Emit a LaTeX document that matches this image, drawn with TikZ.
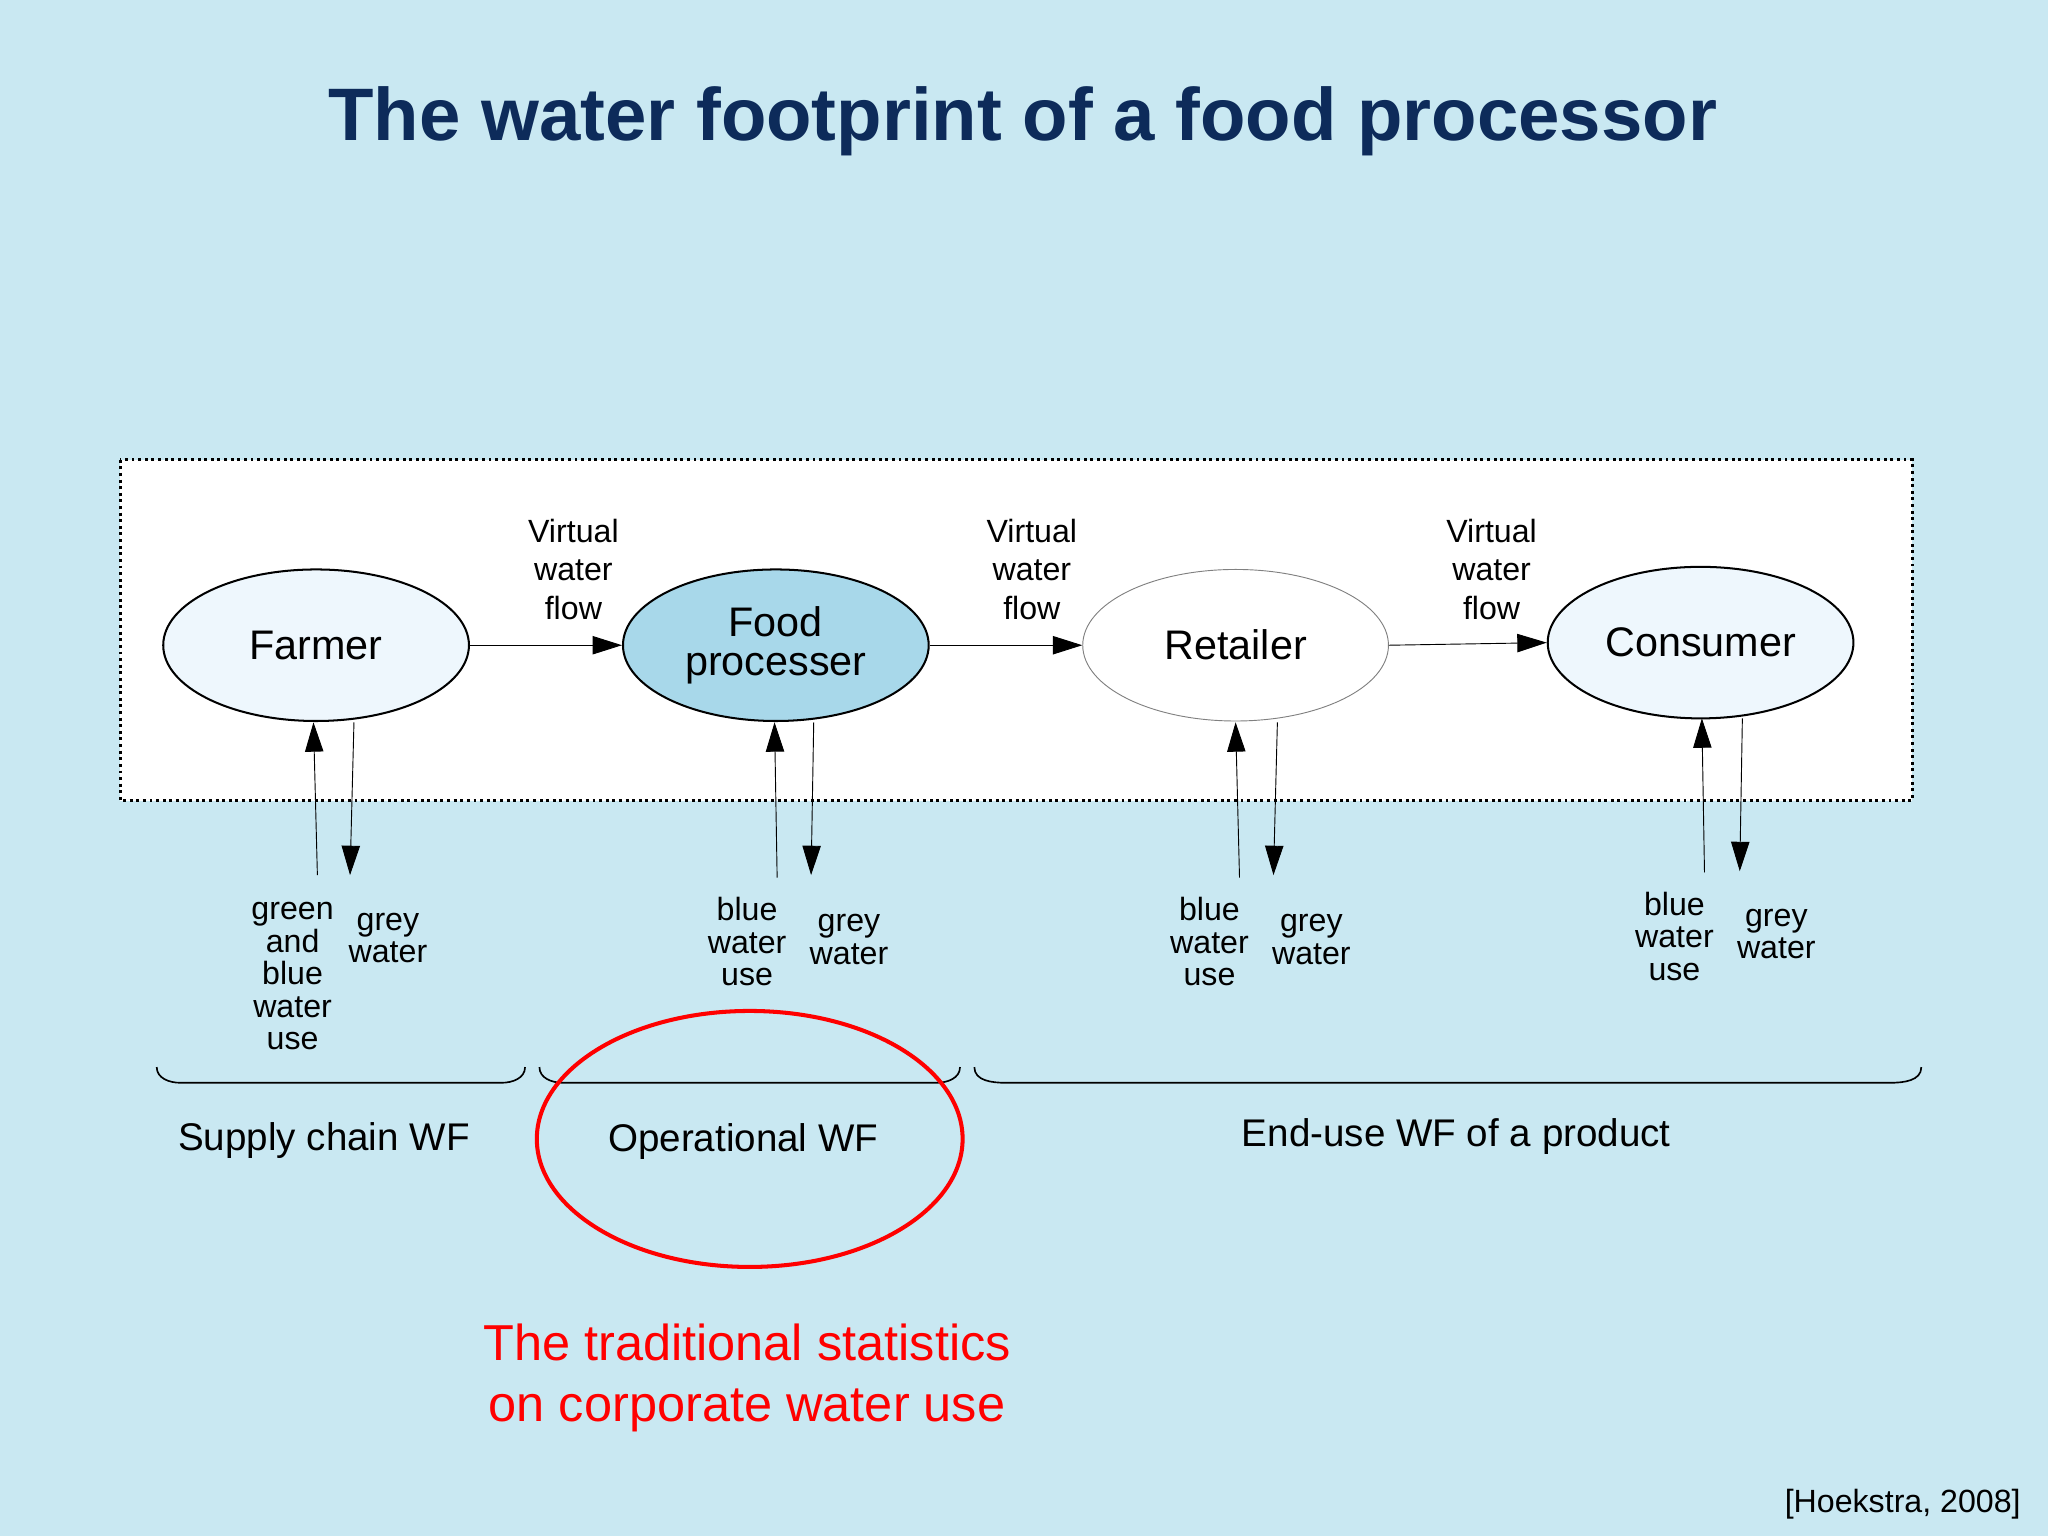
\documentclass[tikz,border=0pt]{standalone}
\usepackage{fontspec}
\setmainfont{Liberation Sans}
\usetikzlibrary{arrows.meta,shapes.geometric}
\definecolor{bg}{HTML}{C9E8F2}
\definecolor{navy}{HTML}{0D2B5A}
\definecolor{light}{HTML}{EEF7FD}
\definecolor{mid}{HTML}{A8D8EA}
\begin{document}
\begin{tikzpicture}[x=0.025cm,y=-0.025cm,
  ell/.style={ellipse,draw,line width=1.1pt,minimum width=5.85cm,minimum height=2.9cm,align=center,font=\fontsize{22.5}{23}\selectfont},
  arr/.style={-{Triangle[length=16pt,width=10pt]},line width=0.5pt},
  lab/.style={align=center,font=\fontsize{17.5}{17.7}\selectfont},
  vlab/.style={align=center,font=\fontsize{17.5}{21}\selectfont},
  wf/.style={font=\fontsize{21}{24}\selectfont},
  br/.style={line width=0.9pt}]
\fill[bg] (0,0) rectangle (1568,1176);
\useasboundingbox (0,0) rectangle (1568,1176);
\node[font=\bfseries\fontsize{40.5}{44}\selectfont,text=navy] (title) at (783,93) {The water footprint of a food processor};
\draw[fill=white,dotted,line width=1.6pt] (92,352) rectangle (1464,613);
\node[ell,fill=light] (farmer) at (242,494) {Farmer};
\node[ell,fill=mid] (food) at (594,494) {Food\\[-2pt]processer};
\node[ell,fill=white,draw=gray,line width=0.5pt] (ret) at (946,494) {Retailer};
\node[ell,fill=light] (cons) at (1302,492) {Consumer};
\draw[arr] (farmer) -- (food);
\draw[arr] (food) -- (ret);
\draw[arr] (ret.east) -- (cons.west);
\node[vlab] (v1) at (439,436) {Virtual\\water\\flow};
\node[vlab] (v2) at (790,436) {Virtual\\water\\flow};
\node[vlab] (v3) at (1142,436) {Virtual\\water\\flow};
\coordinate (f1) at (243,670); \coordinate (f2) at (268,670);
\draw[arr] (f1) -- (240,553);
\draw[arr] (271,553) -- (f2);
\coordinate (p1) at (595,672); \coordinate (p2) at (621,670);
\draw[arr] (p1) -- (593,553);
\draw[arr] (623,553) -- (p2);
\coordinate (r1) at (949,672); \coordinate (r2) at (975,670);
\draw[arr] (r1) -- (946,553);
\draw[arr] (978,553) -- (r2);
\coordinate (c1) at (1305,668); \coordinate (c2) at (1332,667);
\draw[arr] (c1) -- (1303,550);
\draw[arr] (1334,550) -- (c2);
\node[lab,anchor=north] (l1) at (224,686) {green\\and\\blue\\water\\use};
\node[lab,anchor=north] (l2) at (297,694) {grey\\water};
\node[lab,anchor=north] (l3) at (572,682) {blue\\water\\use};
\node[lab,anchor=north] (l4) at (650,695) {grey\\water};
\node[lab,anchor=north] (l5) at (926,682) {blue\\water\\use};
\node[lab,anchor=north] (l6) at (1004,695) {grey\\water};
\node[lab,anchor=north] (l7) at (1282,678) {blue\\water\\use};
\node[lab,anchor=north] (l8) at (1360,691) {grey\\water};
\draw[br] (120,817) to[out=-90,in=180] (138,829) -- (384,829) to[out=0,in=-90] (402,817);
\draw[br] (413,817) to[out=-90,in=180] (431,829) -- (717,829) to[out=0,in=-90] (735,817);
\draw[br] (746,817) to[out=-90,in=180] (770,829) -- (1447,829) to[out=0,in=-90] (1471,817);
\node[wf] (s) at (248,873) {Supply chain WF};
\node[wf] (o) at (569,874) {Operational WF};
\node[wf] (e) at (1115,870) {End-use WF of a product};
\draw[red,line width=2.2pt] (574,872) ellipse [x radius=163,y radius=98];
\node[text=red,align=center,font=\fontsize{27.5}{33.5}\selectfont] (t) at (572,1055) {The traditional statistics\\on corporate water use};
\node[anchor=east,font=\fontsize{17.5}{20}\selectfont] (h) at (1552,1152) {[Hoekstra, 2008]};
\end{tikzpicture}
\end{document}
